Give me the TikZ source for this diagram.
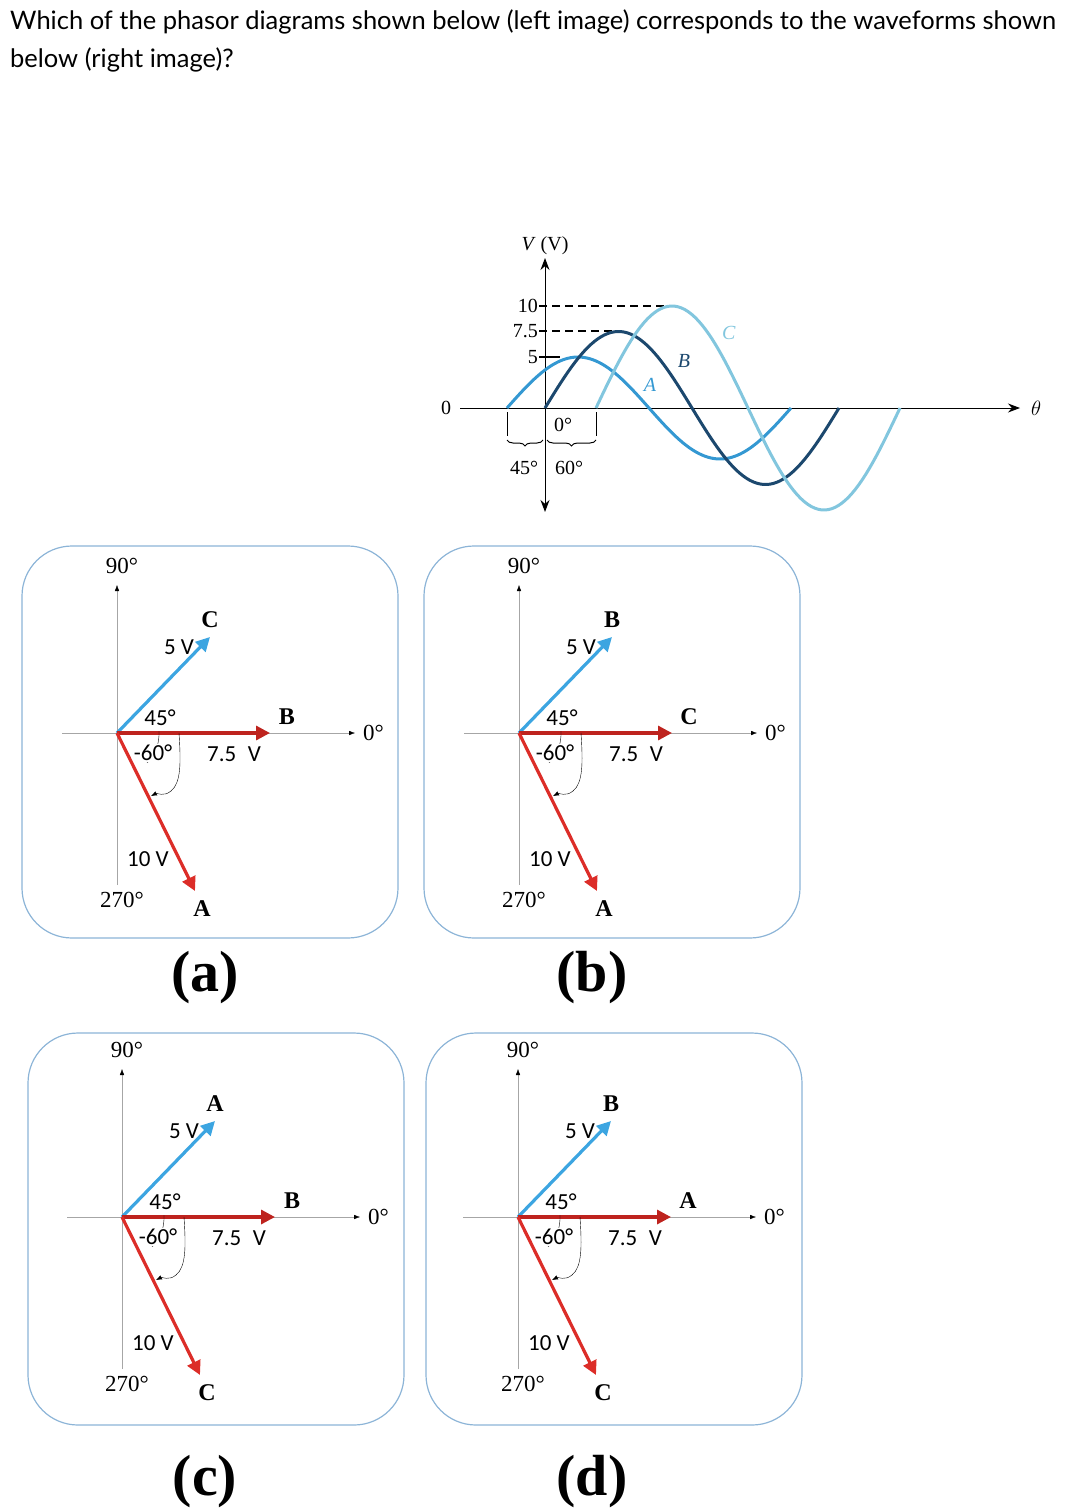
\documentclass[tikz,border=0pt]{standalone}
\usepackage{fontspec}
\setmainfont{Liberation Serif}
\newfontfamily\titlefont{Lato}
\newfontfamily\valfont{Carlito}
\usetikzlibrary{arrows.meta,positioning,calc,decorations.pathreplacing}
\definecolor{waveA}{RGB}{52,152,210}
\definecolor{waveB}{RGB}{28,72,110}
\definecolor{waveC}{RGB}{130,198,222}
\definecolor{vecred}{RGB}{220,45,40}
\definecolor{vecdark}{RGB}{190,35,30}
\definecolor{vecblue}{RGB}{60,165,225}
\definecolor{panelline}{RGB}{140,180,215}
\tikzset{
  axis/.style={draw=black!35, thin},
  vec/.style={line width=3.2pt, -{Triangle[length=14pt,width=14pt]}},
  phlabel/.style={font=\fontsize{24}{26}\selectfont\bfseries},
  valtext/.style={font=\valfont\fontsize{23}{25}\selectfont, inner sep=1pt},
  degtext/.style={font=\fontsize{23}{25}\selectfont, inner sep=1pt},
  wtext/.style={font=\fontsize{20}{22}\selectfont, inner sep=1pt},
  wave/.style={line width=3pt},
  guide/.style={line width=1.2pt, dash pattern=on 8pt off 5pt}
}
\begin{document}
\begin{tikzpicture}[x=1pt, y=-1pt]
\useasboundingbox (0,0) rectangle (1076,1512);
% question
\node[anchor=west, font=\titlefont\fontsize{25.5}{28}\selectfont, inner sep=0] (q1) at (10,22)
  {Which of the phasor diagrams shown below (left image) corresponds to the waveforms shown};
\node[anchor=west, font=\titlefont\fontsize{25.5}{28}\selectfont, inner sep=0] (q2) at (10,60)
  {below (right image)?};

% waveforms
\coordinate (O) at (545,408);
\coordinate (xend) at (1020,408);
\coordinate (ytop) at (545,258);
\coordinate (ybot) at (545,512);
\draw[line width=1pt, -{Stealth[length=12pt]}] (460,408) -- (xend);
\draw[line width=1pt, {Stealth[length=12pt]}-{Stealth[length=12pt]}] (ybot) -- (ytop);
\node[wtext, anchor=west] (theta) at (1030,408) {$\theta$};
\node[wtext, anchor=south] (vlab) at (545,256) {\textit{V} (V)};
\node[wtext] (zero) at (446,408) {0};
\node[wtext, anchor=east] (t10) at (539,306) {10};
\node[wtext, anchor=east] (t75) at (539,331) {7.5};
\node[wtext, anchor=east] (t5) at (539,357) {5};
\draw[guide] (t10.east) -- (672,306);
\draw[guide] (t75.east) -- (618,331);
\draw[line width=1.2pt] (t5.east) -- (560,357);
\draw[wave, waveA] plot[domain=0:360, samples=90] ({507+\x/360*284}, {408-51*sin(\x)});
\draw[wave, waveB] plot[domain=0:360, samples=90] ({545+\x/360*294}, {408-76.5*sin(\x)});
\draw[wave, waveC] plot[domain=0:360, samples=90] ({596+\x/360*304}, {408-102*sin(\x)});
\node[wtext, waveA] (labA) at (650,385) {\textit{A}};
\node[wtext, waveB] (labB) at (684,361) {\textit{B}};
\node[wtext, waveC] (labC) at (729,333) {\textit{C}};
\draw[line width=1pt] (507,412) -- (507,436) (596,412) -- (596,436);
\draw[decorate, decoration={brace, mirror, amplitude=6pt}, line width=1pt] (507,440) -- (543,440);
\draw[decorate, decoration={brace, mirror, amplitude=6pt}, line width=1pt] (547,440) -- (596,440);
\node[wtext] (d0) at (563,425) {0°};
\node[wtext] (d45) at (524,468) {45°};
\node[wtext] (d60) at (569,468) {60°};

% phasor panels
\foreach \px/\py/\bx/\by/\name/\top/\right/\bottom in
  {22/546/117/733/a/C/B/A, 424/546/519/733/b/B/C/A,
   28/1033/122/1217/c/A/B/C, 426/1033/518/1217/d/B/A/C}{
  \draw[panelline, line width=1.2pt, rounded corners=50pt] (\px,\py) rectangle ++(376,392);
  \begin{scope}[shift={(\bx,\by)}]
    \coordinate (o\name) at (0,0);
    \draw[axis, -{Latex[length=6pt,black]}] (-55,0) -- (238,0);
    \draw[axis, -{Latex[length=6pt,black]}] (0,152) -- (0,-148);
    \node[degtext, anchor=west] (e\name) at (245,0) {0°};
    \node[degtext] (n\name) at (5,-167) {90°};
    \node[degtext] (s\name) at (5,167) {270°};
    \draw[vec, vecblue] (o\name) -- (93,-96) coordinate (ct\name);
    \draw[vec, vecdark] (o\name) -- (153,0) coordinate (cr\name);
    \draw[vec, vecred] (o\name) -- (78,158) coordinate (cb\name);
    \draw[thin, -{Latex[length=6pt]}] (42,-2) arc[start angle=-3, end angle=45, radius=42];
    \draw[thin, -{Latex[length=6pt]}] (62,0) .. controls (64,30) and (64,50) .. (54,58) .. controls (47,64) and (40,60) .. (34,63);
    \node[phlabel] (lt\name) at (93,-113) {\top};
    \node[phlabel] (lr\name) at (170,-16) {\right};
    \node[phlabel] (lb\name) at (85,176) {\bottom};
    \node[valtext] (v5\name) at (62,-86) {5 V};
    \node[valtext] (v45\name) at (43,-15) {45°};
    \node[valtext, fill=white] (v60\name) at (36,20) {-60°};
    \node[valtext] (v75\name) at (117,21) {7.5\enspace V};
    \node[valtext] (v10\name) at (31,126) {10 V};
  \end{scope}
}
\node[font=\fontsize{58}{60}\selectfont\bfseries] (capa) at (205,978) {(a)};
\node[font=\fontsize{58}{60}\selectfont\bfseries] (capb) at (592,978) {(b)};
\node[font=\fontsize{58}{60}\selectfont\bfseries] (capc) at (205,1482) {(c)};
\node[font=\fontsize{58}{60}\selectfont\bfseries] (capd) at (592,1482) {(d)};
\end{tikzpicture}
\end{document}
